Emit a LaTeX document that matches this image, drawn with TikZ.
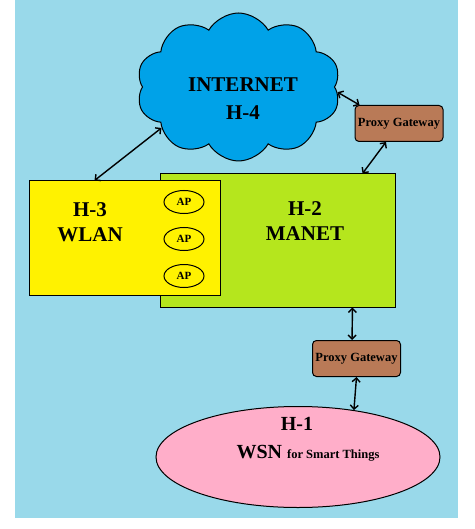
\documentclass[tikz,border=0pt]{standalone}
\usepackage{fontspec}
\setmainfont{Liberation Serif}
\usepackage{tikz}
\usetikzlibrary{arrows.meta,shapes,positioning}
\definecolor{skyback}{HTML}{99D9EA}
\definecolor{cloudblue}{HTML}{00A2E8}
\definecolor{gatebrown}{HTML}{B97A57}
\definecolor{manetgreen}{HTML}{B5E61D}
\definecolor{wlanyellow}{HTML}{FFF200}
\definecolor{wsnpink}{HTML}{FFAEC9}
\tikzset{
  every picture/.style = {
    >={Straight Barb[length=4pt,width=8pt]},
    node distance = 1em and 2em,
  }
  ,
  link/.style = {
    <->,
    line width = 1.4pt
  }
  , % network areas
  area/.style = {
    draw,
    line width = 1pt,
    inner sep = 0pt
  }
  ,
  gateway/.style = {
    area,
    rectangle,
    rounded corners = 4pt,
    fill = gatebrown,
    font = \bfseries\fontsize{12.5}{13}\selectfont,
    minimum width = 88pt,
    minimum height = 36pt
  }
  ,
  accesspt/.style = {
    area,
    ellipse,
    fill = wlanyellow,
    font = \bfseries\fontsize{11}{12}\selectfont,
    minimum width = 40pt,
    minimum height = 23pt
  }
  , % big titles
  title/.style = {
    align = center,
    font = \bfseries\fontsize{21}{25}\selectfont
  }
}
\begin{document}
\begin{tikzpicture}[x=1pt,y=-1pt]
    \useasboundingbox (0,0) rectangle (474,529);
    \fill [skyback] (15,0) rectangle (458,518);
    % internet
    \node [area, cloud, cloud puffs = 10, cloud puff arc = 120, fill = cloudblue,
           minimum width = 204pt, minimum height = 148pt] (cloud) at (238.5,87) {};
    \node [title, font = \bfseries\fontsize{21}{28}\selectfont] (internet) at (243,99) {INTERNET\\H-4};
    % manet and wlan
    \node [area, rectangle, fill = manetgreen, minimum width = 235pt, minimum height = 133pt] (manet) at (277.5,240.5) {};
    \node [area, rectangle, fill = wlanyellow, minimum width = 191pt, minimum height = 114pt] (wlan) at (124.5,238) {};
    \node [title] (wlanlabel) at (90,222) {H-3\\WLAN};
    \node [title] (manetlabel) at (305,221) {H-2\\MANET};
    \node [accesspt] (ap1) at (184,202) {AP};
    \node [accesspt, below = 13pt of ap1] (ap2) {AP};
    \node [accesspt, below = 13pt of ap2] (ap3) {AP};
    % gateways
    \node [gateway] (pg1) at (399,123.5) {Proxy Gateway};
    \node [gateway] (pg2) at (356.5,358.5) {Proxy Gateway};
    % wsn
    \node [area, ellipse, fill = wsnpink, minimum width = 284pt, minimum height = 101pt] (wsn) at (298,457) {};
    \node [title, font = \bfseries\fontsize{20}{24}\selectfont] (wsnhead) at (297,424) {H-1};
    \node [title, font = \bfseries\fontsize{20}{24}\selectfont, anchor = base] (wsnname) at (308,458)
          {WSN {\fontsize{12.5}{13}\selectfont for Smart Things}};
    % links
    \draw [link] (cloud.208) -- ([xshift=66pt]wlan.north west);
    \draw [link] (cloud.-3) -- ([xshift=5pt]pg1.north west);
    \draw [link] ([xshift=-13pt]pg1.south) -- ([xshift=-33pt]manet.north east);
    \draw [link] ([xshift=-43pt]manet.south east) -- ([xshift=-4.5pt]pg2.north);
    \draw [link] (pg2.south) -- (wsn.40);
\end{tikzpicture}
\end{document}
